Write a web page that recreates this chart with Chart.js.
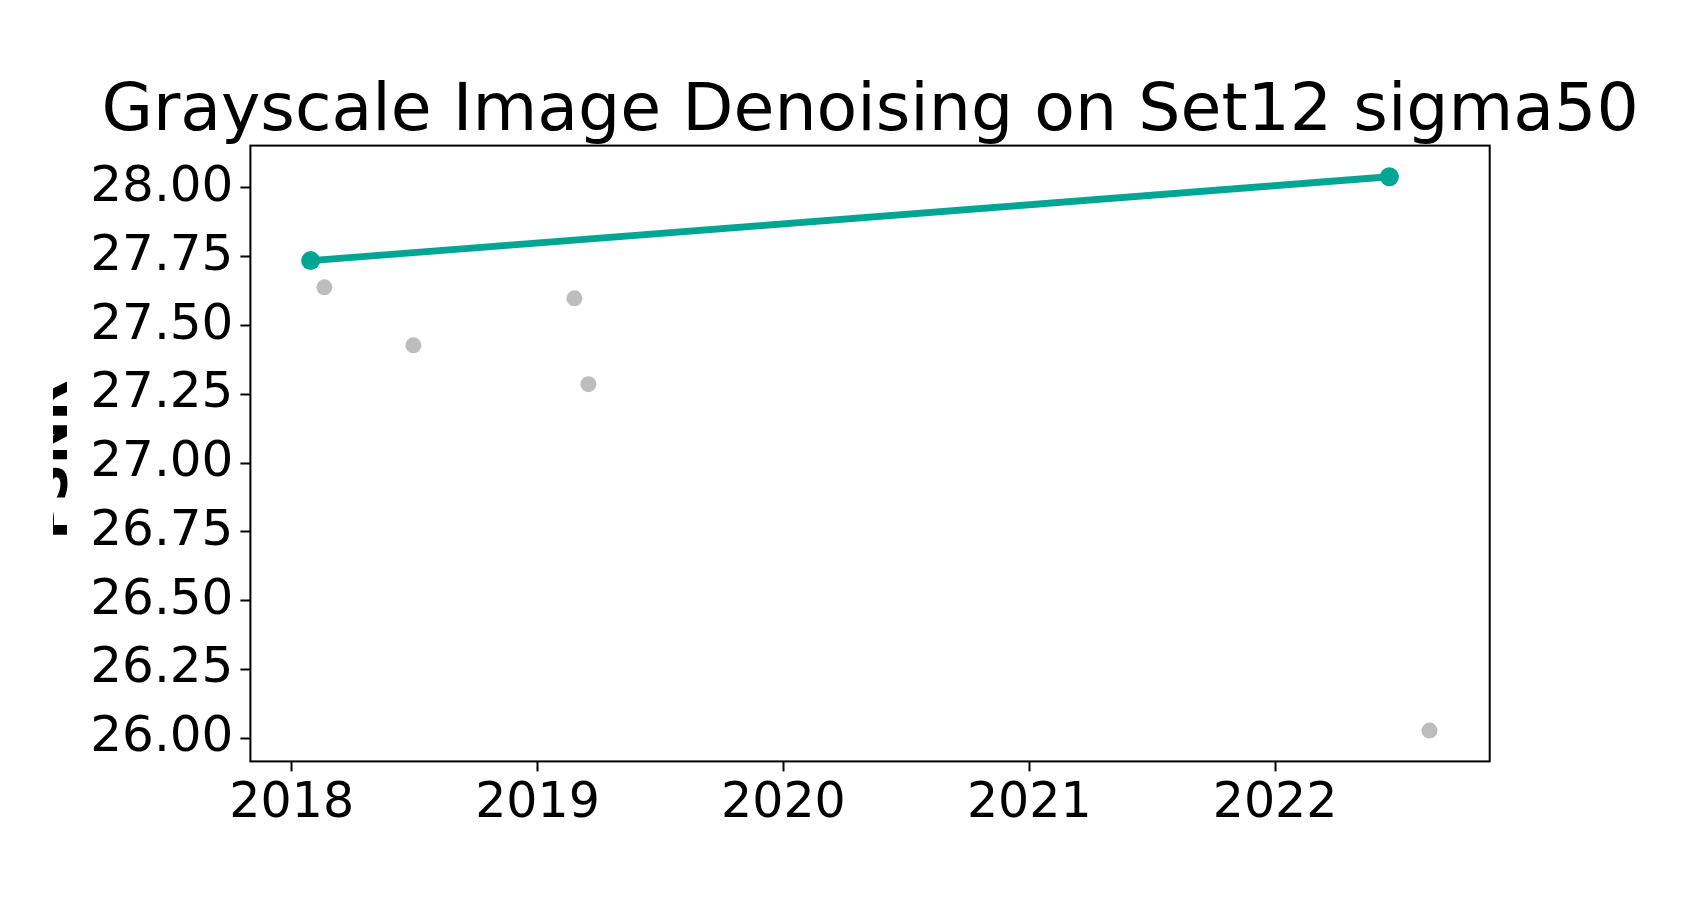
<!DOCTYPE html>
<html>
<head>
<meta charset="utf-8">
<title>Grayscale Image Denoising on Set12 sigma50</title>
<script src="https://cdn.jsdelivr.net/npm/chart.js@4/dist/chart.umd.min.js"></script>
<style>
  html, body { margin: 0; padding: 0; background: #fff; }
  #wrap { width: 1700px; height: 900px; }
</style>
</head>
<body>
<div id="wrap"><canvas id="psnrChart" width="1700" height="900"></canvas></div>
<script>
// state of the art line (two methods)
var sotaYears = [2018.077, 2022.465];
var sotaPsnr = [27.736, 28.041];
// other methods, grey dots
var otherYears = [2018.133, 2018.495, 2019.150, 2019.207, 2022.628];
var otherPsnr = [27.639, 27.428, 27.599, 27.287, 26.028];
// axis ticks
var yearTicks = [2018, 2019, 2020, 2021, 2022];
var psnrTicks = [26.00, 26.25, 26.50, 26.75, 27.00, 27.25, 27.50, 27.75, 28.00];
var chartTitle = 'Grayscale Image Denoising on Set12 sigma50';
var yTitle = 'PSNR';

function toPoints(xs, ys) {
    let pts = [];
    for (let i = 0; i < xs.length; i++) {
        pts.push({x: xs[i], y: ys[i]});
    }
    return pts;
}

Chart.defaults.font.family = 'DejaVu Sans';
Chart.defaults.color = '#000';

// frame, title over the plot area, and the y title cut at the left like the original
var framePlugin = {
    id: 'frame',
    afterDraw: function(chart) {
        const ctx = chart.ctx;
        const a = chart.chartArea;
        ctx.save();
        ctx.strokeStyle = '#000';
        ctx.lineWidth = 2;
        ctx.strokeRect(a.left, a.top, a.right - a.left, a.bottom - a.top);

        ctx.fillStyle = '#000';
        ctx.font = '66.5px "DejaVu Sans"';
        ctx.textAlign = 'center';
        ctx.textBaseline = 'alphabetic';
        ctx.fillText(chartTitle, (a.left + a.right) / 2, 130);

        ctx.beginPath();
        ctx.rect(53, 0, chart.width - 53, chart.height);
        ctx.clip();
        ctx.translate(67, 460);
        ctx.rotate(-Math.PI / 2);
        ctx.font = 'bold 52px "DejaVu Sans"';
        ctx.fillText(yTitle, 0, 0);
        ctx.restore();
    }
};

var ctx = document.getElementById('psnrChart').getContext('2d');
new Chart(ctx, {
    type: 'scatter',
    data: {
        datasets: [{
            label: 'Other methods',
            data: toPoints(otherYears, otherPsnr),
            backgroundColor: '#bdbdbd',
            borderColor: '#bdbdbd',
            pointRadius: 8,
            pointHoverRadius: 8,
            borderWidth: 0,
            showLine: false
        }, {
            label: 'State of the art',
            data: toPoints(sotaYears, sotaPsnr),
            backgroundColor: '#00a594',
            borderColor: '#00a594',
            pointRadius: 9.5,
            pointHoverRadius: 9.5,
            pointBorderWidth: 0,
            borderWidth: 7,
            showLine: true
        }]
    },
    options: {
        responsive: false,
        animation: false,
        devicePixelRatio: 1,
        layout: {
            padding: {left: 0, right: 210.3, top: 145.6, bottom: 78.6}
        },
        plugins: {
            legend: {display: false},
            tooltip: {enabled: false},
            title: {display: false}
        },
        scales: {
            x: {
                type: 'linear',
                min: 2017.832,
                max: 2022.873,
                afterBuildTicks: function(axis) {
                    axis.ticks = yearTicks.map(function(v) { return {value: v}; });
                },
                afterFit: function(axis) { axis.height = 60; },
                grid: {
                    display: true,
                    drawOnChartArea: false,
                    drawTicks: true,
                    tickLength: 10,
                    tickWidth: 2,
                    tickColor: '#000'
                },
                border: {display: false},
                ticks: {
                    font: {size: 49},
                    padding: 3,
                    maxRotation: 0,
                    callback: function(v) { return String(Math.round(v)); }
                }
            },
            y: {
                type: 'linear',
                min: 25.916,
                max: 28.154,
                afterBuildTicks: function(axis) {
                    axis.ticks = psnrTicks.map(function(v) { return {value: v}; });
                },
                afterFit: function(axis) { axis.width = 250.4; },
                grid: {
                    display: true,
                    drawOnChartArea: false,
                    drawTicks: true,
                    tickLength: 10,
                    tickWidth: 2,
                    tickColor: '#000'
                },
                border: {display: false},
                ticks: {
                    font: {size: 50},
                    padding: 7,
                    callback: function(v) { return v.toFixed(2); }
                }
            }
        }
    },
    plugins: [framePlugin]
});
</script>
</body>
</html>
